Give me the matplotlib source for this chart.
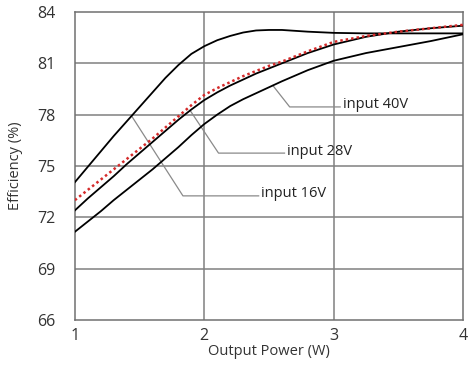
import matplotlib
matplotlib.use("Agg")
import matplotlib.pyplot as plt

plt.rcParams['font.family'] = ['Open Sans', 'DejaVu Sans']

# output power (W)
power = [1.0, 1.1, 1.2, 1.3, 1.4, 1.5, 1.6, 1.7, 1.8, 1.9, 2.0, 2.1, 2.2, 2.3,
         2.4, 2.5, 2.6, 2.8, 3.0, 3.25, 3.5, 3.75, 4.0]

# efficiency (%)
eff_16v = [74.05, 74.95, 75.85, 76.75, 77.6, 78.45, 79.3, 80.15, 80.9, 81.55, 82.0, 82.35,
           82.6, 82.8, 82.92, 82.95, 82.95, 82.85, 82.78, 82.75, 82.75, 82.75, 82.75]
eff_28v = [72.4, 73.1, 73.75, 74.4, 75.1, 75.75, 76.4, 77.05, 77.7, 78.3, 78.85, 79.3,
           79.7, 80.05, 80.4, 80.7, 81.0, 81.6, 82.1, 82.55, 82.85, 83.05, 83.2]
eff_fit = [73.0, 73.6, 74.2, 74.8, 75.4, 76.0, 76.6, 77.25, 77.9, 78.55, 79.15, 79.55,
           79.9, 80.25, 80.55, 80.85, 81.1, 81.7, 82.25, 82.6, 82.85, 83.05, 83.25]
eff_40v = [71.15, 71.75, 72.35, 73.0, 73.6, 74.2, 74.8, 75.45, 76.1, 76.8, 77.45, 78.0,
           78.5, 78.9, 79.25, 79.6, 79.95, 80.6, 81.15, 81.6, 81.95, 82.3, 82.7]

xticks = [1, 2, 3, 4]
yticks = [66, 69, 72, 75, 78, 81, 84]

# label text, curve point, elbow point, end of leader
labels = ["input 40V", "input 28V", "input 16V"]
tips = [(2.53, 79.7), (1.89, 78.25), (1.44, 77.9)]
elbows = [(2.66, 78.45), (2.11, 75.75), (1.835, 73.25)]
ends = [3.05, 2.62, 2.42]

fig = plt.figure(figsize=(4.74, 3.75), dpi=100)
ax = fig.add_axes([0.158, 0.147, 0.819, 0.821])

grid_c = '#808080'
for y in yticks[1:-1]:
    ax.axhline(y, color=grid_c, lw=1.1, zorder=1)
for x in xticks[1:-1]:
    ax.axvline(x, color=grid_c, lw=1.1, zorder=1)

ax.plot(power, eff_16v, color='black', lw=1.3, zorder=3)
ax.plot(power, eff_28v, color='black', lw=1.3, zorder=3)
ax.plot(power, eff_40v, color='black', lw=1.3, zorder=3)
ax.plot(power, eff_fit, color='#d42a2a', lw=1.8, ls=(0, (1, 1.2)), zorder=4)

# leaders
for lab, tip, elb, end in zip(labels, tips, elbows, ends):
    ax.plot([tip[0], elb[0], end], [tip[1], elb[1], elb[1]],
            color='#8a8a8a', lw=0.9, zorder=2)
    ax.text(end + 0.02, elb[1] + 0.12, lab, fontsize=10.5, color='#222222',
            va='center', ha='left', zorder=5)

ax.set_xlim(1, 4)
ax.set_ylim(66, 84)
ax.set_xticks(xticks)
ax.set_yticks(yticks)
ax.tick_params(length=0, labelsize=11.5, colors='#333333')
ax.tick_params(axis='y', pad=14)
ax.tick_params(axis='x', pad=6)
for s in ax.spines.values():
    s.set_color('#707070')
    s.set_linewidth(1.1)

ax.set_xlabel('Output Power (W)', fontsize=10.5, color='#333333', labelpad=0)
ax.set_ylabel('Efficiency (%)', fontsize=10.5, color='#333333', labelpad=10)

fig.savefig('out.png', dpi=100)
